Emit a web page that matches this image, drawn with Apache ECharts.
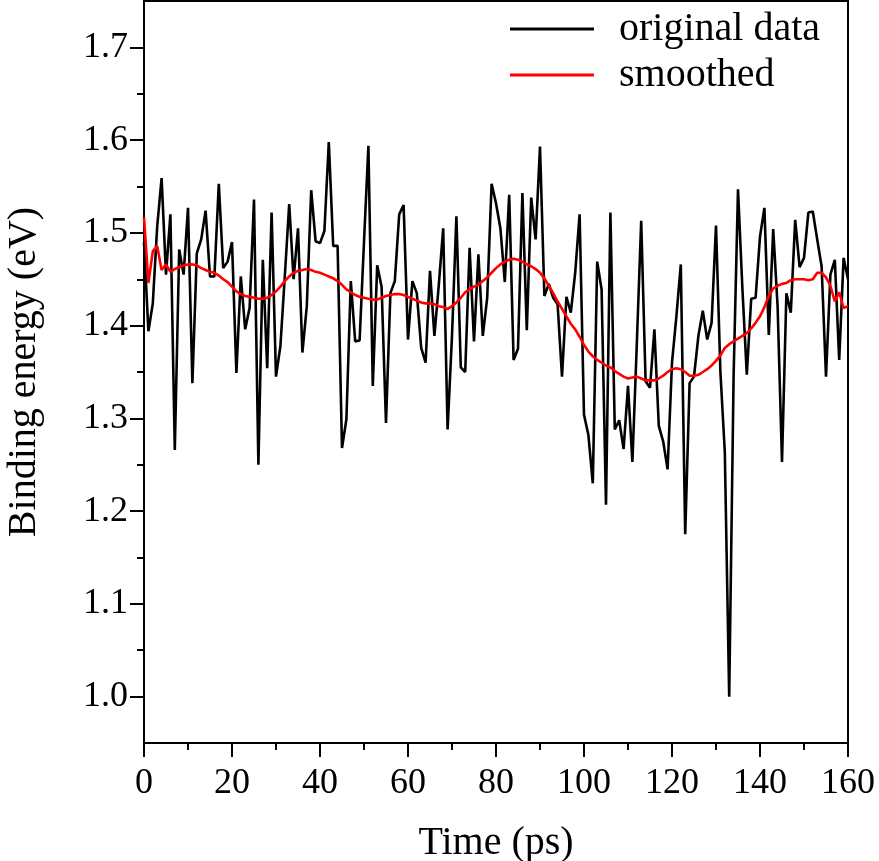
<!DOCTYPE html>
<html>
<head>
<meta charset="utf-8">
<script src="https://cdn.jsdelivr.net/npm/echarts@6/dist/echarts.min.js"></script>
<style>
  html, body { margin: 0; padding: 0; background: #fff; }
  #chart { width: 879px; height: 861px; }
</style>
</head>
<body>
<div id="chart"></div>
<script>
// binding energy (eV), one sample per ps, t = 0..160
var originalData = [
  1.490, 1.394, 1.424, 1.507, 1.559, 1.455, 1.520, 1.266, 1.482, 1.455,
  1.527, 1.338, 1.478, 1.493, 1.524, 1.453, 1.453, 1.553, 1.462, 1.469,
  1.490, 1.349, 1.453, 1.396, 1.419, 1.536, 1.250, 1.471, 1.354, 1.522,
  1.345, 1.378, 1.453, 1.531, 1.450, 1.505, 1.371, 1.421, 1.546, 1.491,
  1.489, 1.502, 1.598, 1.486, 1.486, 1.268, 1.299, 1.448, 1.383, 1.384,
  1.490, 1.594, 1.335, 1.465, 1.442, 1.295, 1.435, 1.448, 1.520, 1.530,
  1.385, 1.448, 1.435, 1.376, 1.360, 1.459, 1.389, 1.444, 1.505, 1.288,
  1.389, 1.518, 1.355, 1.350, 1.484, 1.383, 1.477, 1.389, 1.430, 1.553,
  1.532, 1.505, 1.447, 1.541, 1.363, 1.375, 1.543, 1.395, 1.538, 1.493,
  1.593, 1.432, 1.445, 1.430, 1.423, 1.345, 1.431, 1.414, 1.457, 1.520,
  1.304, 1.282, 1.230, 1.469, 1.439, 1.207, 1.522, 1.288, 1.298, 1.267,
  1.335, 1.253, 1.380, 1.513, 1.340, 1.333, 1.396, 1.292, 1.275, 1.245,
  1.360, 1.410, 1.466, 1.175, 1.338, 1.345, 1.389, 1.416, 1.385, 1.403,
  1.508, 1.350, 1.264, 1.000, 1.345, 1.547, 1.440, 1.347, 1.429, 1.430,
  1.496, 1.527, 1.390, 1.504, 1.421, 1.253, 1.435, 1.414, 1.514, 1.463,
  1.473, 1.522, 1.523, 1.493, 1.464, 1.345, 1.455, 1.471, 1.363, 1.473,
  1.450
];

var smoothedData = [
  1.517, 1.446, 1.480, 1.486, 1.460, 1.466, 1.458, 1.461, 1.463, 1.465,
  1.466, 1.466, 1.465, 1.462, 1.460, 1.458, 1.457, 1.454, 1.450, 1.447,
  1.442, 1.437, 1.434, 1.432, 1.431, 1.430, 1.429, 1.429, 1.430, 1.433,
  1.437, 1.442, 1.448, 1.453, 1.457, 1.459, 1.460, 1.461, 1.460, 1.458,
  1.457, 1.455, 1.453, 1.451, 1.448, 1.444, 1.439, 1.436, 1.433, 1.431,
  1.430, 1.429, 1.428, 1.428, 1.430, 1.432, 1.433, 1.434, 1.434, 1.433,
  1.431, 1.429, 1.427, 1.425, 1.424, 1.424, 1.423, 1.421, 1.420, 1.418,
  1.421, 1.425, 1.430, 1.436, 1.439, 1.442, 1.444, 1.448, 1.452, 1.457,
  1.462, 1.466, 1.469, 1.471, 1.472, 1.471, 1.469, 1.466, 1.464, 1.461,
  1.457, 1.451, 1.443, 1.435, 1.426, 1.418, 1.410, 1.402, 1.396, 1.388,
  1.379, 1.372, 1.367, 1.363, 1.360, 1.357, 1.355, 1.351, 1.348, 1.345,
  1.343, 1.344, 1.345, 1.343, 1.341, 1.341, 1.341, 1.343, 1.346, 1.350,
  1.353, 1.354, 1.353, 1.350, 1.346, 1.346, 1.347, 1.350, 1.353, 1.357,
  1.362, 1.368, 1.376, 1.380, 1.383, 1.386, 1.389, 1.392, 1.397, 1.403,
  1.410, 1.420, 1.432, 1.440, 1.443, 1.445, 1.446, 1.449, 1.450, 1.450,
  1.450, 1.449, 1.450, 1.457, 1.457, 1.452, 1.443, 1.426, 1.436, 1.419,
  1.421
];

var yMajorTicks = [1.0, 1.1, 1.2, 1.3, 1.4, 1.5, 1.6, 1.7];
var yMinorTicks = [1.05, 1.15, 1.25, 1.35, 1.45, 1.55, 1.65];

var font = '"Liberation Serif", "DejaVu Serif", serif';
var chart = echarts.init(document.getElementById('chart'));

function pairs(arr) {
  return arr.map(function (v, i) { return [i, v]; });
}

var option = {
  animation: false,
  backgroundColor: '#fff',
  grid: {
    left: 144, right: 31, top: 1, bottom: 118,
    outerBoundsMode: 'none',
    show: true, borderColor: '#000', borderWidth: 2
  },
  legend: {
    orient: 'vertical',
    right: 54,
    top: 4,
    icon: 'rect',
    itemWidth: 84,
    itemHeight: 3,
    itemGap: 6,
    data: ['original data', 'smoothed'],
    textStyle: { fontFamily: font, fontSize: 40, color: '#000', padding: [0, 0, 0, 20] }
  },
  xAxis: {
    type: 'value',
    min: 0, max: 160, interval: 20,
    name: 'Time (ps)',
    nameLocation: 'middle',
    nameGap: 80,
    nameTextStyle: { fontFamily: font, fontSize: 40, color: '#000' },
    axisLine: { lineStyle: { color: '#000', width: 2 } },
    axisTick: { length: 14, lineStyle: { color: '#000', width: 2 } },
    minorTick: { show: true, splitNumber: 2, length: 7, lineStyle: { color: '#000', width: 2 } },
    axisLabel: { fontFamily: font, fontSize: 36, color: '#000', margin: 23 },
    splitLine: { show: false }
  },
  yAxis: [{
    type: 'value',
    min: 0.95, max: 1.75,
    name: 'Binding energy (eV)',
    nameLocation: 'middle',
    nameGap: 100,
    nameTextStyle: { fontFamily: font, fontSize: 40, color: '#000' },
    axisLine: { lineStyle: { color: '#000', width: 2 } },
    axisTick: { length: 14, customValues: yMajorTicks, lineStyle: { color: '#000', width: 2 } },
    axisLabel: {
      fontFamily: font, fontSize: 36, color: '#000', margin: 16,
      customValues: yMajorTicks,
      formatter: function (v) { return v.toFixed(1); }
    },
    splitLine: { show: false }
  }, {
    type: 'value',
    position: 'left',
    min: 0.95, max: 1.75,
    axisLine: { show: false },
    axisTick: { length: 7, customValues: yMinorTicks, lineStyle: { color: '#000', width: 2 } },
    axisLabel: { show: false },
    splitLine: { show: false }
  }],
  series: [{
    name: 'original data',
    type: 'line',
    data: pairs(originalData),
    symbol: 'none',
    color: '#000',
    lineStyle: { color: '#000', width: 2.6 }
  }, {
    name: 'smoothed',
    type: 'line',
    data: pairs(smoothedData),
    symbol: 'none',
    color: '#ff0000',
    lineStyle: { color: '#ff0000', width: 2.6 }
  }]
};

chart.setOption(option);
</script>
</body>
</html>
